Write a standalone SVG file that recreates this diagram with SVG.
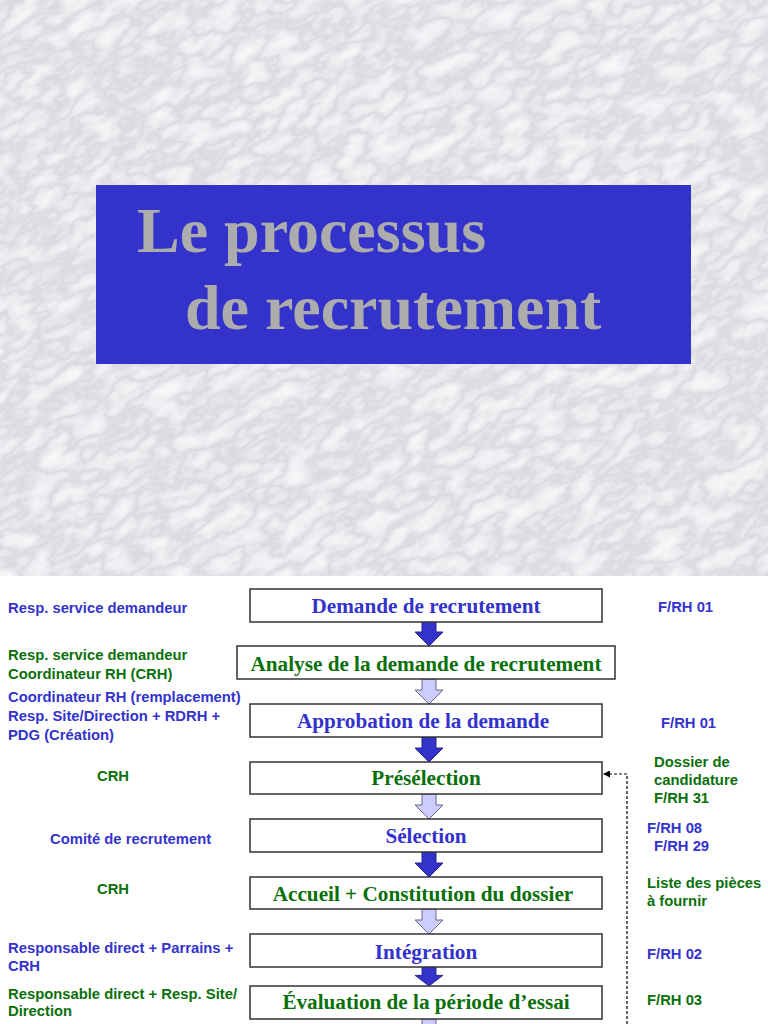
<svg xmlns="http://www.w3.org/2000/svg" width="768" height="1024" viewBox="0 0 768 1024">
<defs>
<filter id="marble" x="0" y="0" width="1" height="1">
<feTurbulence type="fractalNoise" baseFrequency="0.025 0.05" numOctaves="5" seed="7" result="n"/>
<feColorMatrix in="n" type="matrix" values="1 0 0 0 0  1 0 0 0 0  1 0 0 0 0  0 0 0 0 1"/>
<feComponentTransfer>
<feFuncR type="table" tableValues="0.95 0.94 0.92 0.88 0.81 0.70 0.80 0.87 0.91 0.94 0.95"/>
<feFuncG type="table" tableValues="0.95 0.94 0.92 0.88 0.81 0.70 0.80 0.87 0.91 0.94 0.95"/>
<feFuncB type="table" tableValues="0.97 0.96 0.94 0.90 0.84 0.74 0.83 0.90 0.93 0.96 0.97"/>
</feComponentTransfer>
</filter>
<clipPath id="topclip"><rect x="0" y="0" width="768" height="576"/></clipPath>
<marker id="ah" viewBox="0 0 10 10" refX="10" refY="5" markerWidth="7" markerHeight="7" orient="auto" markerUnits="userSpaceOnUse">
<path d="M0,0 L10,5 L0,10 z" fill="#000"/>
</marker>
<path id="arr" d="M-7,0 H7 V11 H14 L0,25 L-14,11 H-7 Z"/>
</defs>
<style>
.box{fill:#fff;stroke:#333;stroke-width:1.5}
.bt{font-family:"Liberation Serif","Times New Roman",serif;font-weight:bold;font-size:21.2px;text-anchor:middle}
.lt{font-family:"Liberation Sans",Arial,sans-serif;font-weight:bold;font-size:14.8px}
.b{fill:#3333cc}
.g{fill:#0a700a}
.dark{fill:#3333cc;stroke:#22228a;stroke-width:1}
.light{fill:#ccccff;stroke:#666688;stroke-width:1}
.title{font-family:"Liberation Serif","Times New Roman",serif;font-weight:bold;font-size:64px;fill:#acacac}
</style>
<rect x="0" y="0" width="768" height="1024" fill="#fff"/>
<g clip-path="url(#topclip)">
<g transform="rotate(-30 384 288)">
<rect x="-300" y="-300" width="1400" height="1200" filter="url(#marble)"/>
</g>
</g>
<g id="title">
<rect x="96" y="185" width="595" height="179" fill="#3333cc"/>
<text class="title" x="137" y="252">Le processus</text>
<text class="title" x="185" y="329">de recrutement</text>
</g>
<g id="connectors">
<use href="#arr" x="429" y="621" class="dark"/>
<use href="#arr" x="429" y="679" class="light"/>
<use href="#arr" x="429" y="737" class="dark"/>
<use href="#arr" x="429" y="794" class="light"/>
<use href="#arr" x="429" y="852" class="dark"/>
<use href="#arr" x="429" y="909" class="light"/>
<use href="#arr" x="429" y="967" transform="translate(429 967) scale(1 0.76) translate(-429 -967)" class="dark"/>
<use href="#arr" x="429" y="1019" class="light"/>
<path d="M627,1024 V774 H603" fill="none" stroke="#000" stroke-width="1.2" stroke-dasharray="3 2" marker-end="url(#ah)"/>
</g>
<g id="n1"><rect class="box" x="250" y="589" width="352" height="33"/><text class="bt b" x="426" y="613">Demande de recrutement</text></g>
<g id="n2"><rect class="box" x="237" y="646" width="378" height="33"/><text class="bt g" x="426" y="671">Analyse de la demande de recrutement</text></g>
<g id="n3"><rect class="box" x="250" y="704" width="352" height="33"/><text class="bt b" x="423" y="728">Approbation de la demande</text></g>
<g id="n4"><rect class="box" x="250" y="762" width="352" height="32"/><text class="bt g" x="426" y="785">Présélection</text></g>
<g id="n5"><rect class="box" x="250" y="819" width="352" height="33"/><text class="bt b" x="426" y="843">Sélection</text></g>
<g id="n6"><rect class="box" x="250" y="877" width="352" height="32"/><text class="bt g" x="423" y="901">Accueil + Constitution du dossier</text></g>
<g id="n7"><rect class="box" x="250" y="934" width="352" height="33"/><text class="bt b" x="426" y="959">Intégration</text></g>
<g id="n8"><rect class="box" x="250" y="986" width="352" height="33"/><text class="bt g" x="426" y="1009">Évaluation de la période d’essai</text></g>
<g id="left-labels">
<text class="lt b" x="8" y="613">Resp. service demandeur</text>
<text class="lt g" x="8" y="660">Resp. service demandeur</text>
<text class="lt g" x="8" y="679">Coordinateur RH (CRH)</text>
<text class="lt b" x="8" y="702">Coordinateur RH (remplacement)</text>
<text class="lt b" x="8" y="721">Resp. Site/Direction + RDRH +</text>
<text class="lt b" x="8" y="740">PDG (Création)</text>
<text class="lt g" x="97" y="781">CRH</text>
<text class="lt b" x="50" y="844">Comité de recrutement</text>
<text class="lt g" x="97" y="894">CRH</text>
<text class="lt b" x="8" y="953">Responsable direct + Parrains +</text>
<text class="lt b" x="8" y="971">CRH</text>
<text class="lt g" x="8" y="999">Responsable direct + Resp. Site/</text>
<text class="lt g" x="8" y="1016">Direction</text>
</g>
<g id="right-labels">
<text class="lt b" x="658" y="612">F/RH 01</text>
<text class="lt b" x="661" y="728">F/RH 01</text>
<text class="lt g" x="654" y="767">Dossier de</text>
<text class="lt g" x="654" y="785">candidature</text>
<text class="lt g" x="654" y="803">F/RH 31</text>
<text class="lt b" x="647" y="833">F/RH 08</text>
<text class="lt b" x="654" y="851">F/RH 29</text>
<text class="lt g" x="647" y="888">Liste des pièces</text>
<text class="lt g" x="647" y="906">à fournir</text>
<text class="lt b" x="647" y="959">F/RH 02</text>
<text class="lt g" x="647" y="1005">F/RH 03</text>
</g>
</svg>
